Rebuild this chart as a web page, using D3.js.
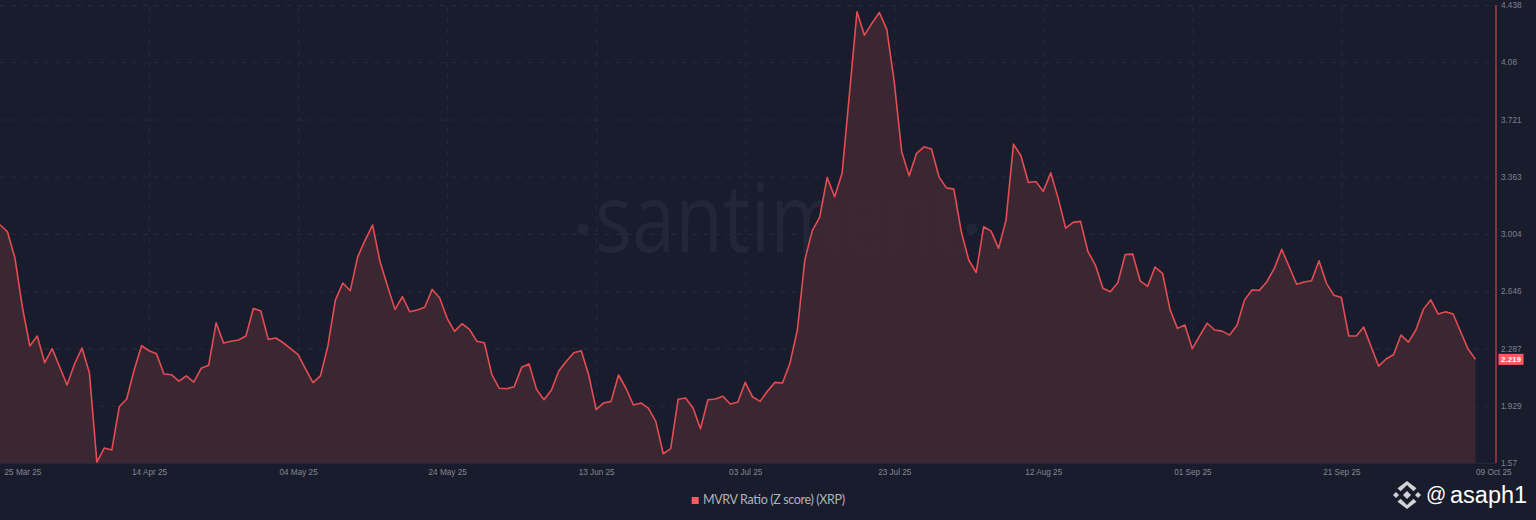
<!DOCTYPE html>
<html><head><meta charset="utf-8">
<script src="https://cdn.jsdelivr.net/npm/d3@7/dist/d3.min.js"></script>
<style>html,body{margin:0;padding:0;background:#181c2d;overflow:hidden}svg{display:block}</style>
</head><body><svg id="c" width="1536" height="520"></svg>
<script>
const startDate = "2025-03-25";
const values = [
3.062,3.018,2.854,2.547,2.303,2.365,2.198,2.286,2.173,2.058,2.190,2.290,2.133,1.576,1.664,1.651,1.922,1.971,2.152,2.304,
2.273,2.254,2.127,2.123,2.083,2.115,2.077,2.163,2.182,2.448,2.321,2.332,2.340,2.365,2.538,2.522,2.344,2.353,2.323,2.286,
2.248,2.160,2.073,2.116,2.303,2.590,2.697,2.649,2.861,2.966,3.060,2.830,2.678,2.532,2.611,2.517,2.528,2.545,2.657,2.603,
2.476,2.394,2.442,2.407,2.332,2.323,2.123,2.038,2.035,2.048,2.169,2.190,2.031,1.966,2.027,2.148,2.207,2.260,2.273,2.121,
1.904,1.946,1.956,2.121,2.038,1.933,1.946,1.914,1.831,1.628,1.660,1.969,1.977,1.914,1.785,1.966,1.971,1.988,1.939,1.950,
2.075,1.983,1.956,2.021,2.075,2.071,2.194,2.403,2.841,3.025,3.110,3.358,3.237,3.384,3.886,4.395,4.249,4.323,4.391,4.285,
3.957,3.519,3.368,3.509,3.550,3.536,3.362,3.293,3.285,3.018,2.841,2.763,3.049,3.022,2.914,3.091,3.567,3.494,3.327,3.333,
3.271,3.387,3.227,3.041,3.077,3.083,2.893,2.809,2.664,2.642,2.699,2.876,2.878,2.711,2.676,2.797,2.758,2.532,2.413,2.434,
2.286,2.368,2.445,2.403,2.396,2.371,2.432,2.590,2.653,2.651,2.705,2.789,2.908,2.799,2.689,2.703,2.711,2.836,2.695,2.620,
2.607,2.365,2.365,2.421,2.298,2.177,2.221,2.248,2.371,2.327,2.403,2.532,2.592,2.503,2.517,2.503,2.392,2.284,2.219];
const yTickValues = [4.438,4.08,3.721,3.363,3.004,2.646,2.287,1.929,1.57];
const xTickDates = ["2025-03-25","2025-04-14","2025-05-04","2025-05-24","2025-06-13","2025-07-03","2025-07-23","2025-08-12","2025-09-01","2025-09-21","2025-10-09"];
const seriesName = "MVRV Ratio (Z score) (XRP)";
const watermark = "santiment";
const creditAt = "@";
const creditName = "asaph1";

const svg = d3.select("#c");
const font = "'Liberation Sans', sans-serif";
const parse = d3.utcParse("%Y-%m-%d");
const t0 = parse(startDate);
const dates = values.map((_, i) => d3.utcDay.offset(t0, i));
const x = d3.scaleUtc().domain([t0, dates[dates.length - 1]]).range([0, 1475.5]);
const y = d3.scaleLinear().domain([1.57, 4.438]).range([463, 5]);
const data = values.map((v, i) => ({ d: dates[i], v }));

// watermark
svg.append("text").attr("x", 595).attr("y", 252)
  .attr("font-family", "'Open Sans', sans-serif").attr("font-weight", 400).attr("font-size", 96)
  .attr("textLength", 366).attr("lengthAdjust", "spacingAndGlyphs")
  .attr("fill", "#222737").text(watermark);
svg.selectAll("circle.wm").data([583, 972]).join("circle").attr("class", "wm")
  .attr("cx", d => d).attr("cy", 229).attr("r", 5.5).attr("fill", "#222737");

// grid
const gridColor = "#262a3b";
const gy = svg.append("g").call(d3.axisRight(y).tickValues(yTickValues).tickSize(1496).tickFormat(""));
gy.select(".domain").remove();
gy.selectAll("line").attr("stroke", gridColor).attr("stroke-dasharray", "5 6");
const gx = svg.append("g").attr("transform", "translate(0,463)")
  .call(d3.axisTop(x).tickValues(xTickDates.slice(1, -1).map(parse)).tickSize(458).tickFormat(""));
gx.select(".domain").remove();
gx.selectAll("line").attr("stroke", gridColor).attr("stroke-dasharray", "5 6");

// area + line
svg.append("path").datum(data).attr("fill", "#3d2832").attr("fill-opacity", 0.95)
  .attr("d", d3.area().x(d => x(d.d)).y0(y(1.57)).y1(d => y(d.v)));
svg.append("path").datum(data).attr("fill", "none").attr("stroke", "#e44c53").attr("stroke-width", 1.6)
  .attr("stroke-linejoin", "round")
  .attr("d", d3.line().x(d => x(d.d)).y(d => y(d.v)));

// x axis
const fmt = d3.utcFormat("%d %b %y");
const ax = svg.append("g").attr("transform", "translate(0,463)")
  .call(d3.axisBottom(x).tickValues(xTickDates.map(parse)).tickSize(0).tickPadding(6).tickFormat(fmt));
ax.select(".domain").attr("stroke", "#24273a").attr("d", "M0,0.5H1496");
ax.selectAll("text").attr("fill", "#85888f").attr("font-family", font).attr("font-size", 8.2);
const xl = ax.selectAll("text");
xl.filter((d, i) => i === 0).attr("text-anchor", "start").attr("x", 4);
xl.filter((d, i) => i === xTickDates.length - 1).attr("text-anchor", "start").attr("x", 0);

// y axis
const ay = svg.append("g").attr("transform", "translate(1496,0)")
  .call(d3.axisRight(y).tickValues(yTickValues).tickSize(0).tickPadding(5).tickFormat(d => String(d)));
ay.select(".domain").attr("stroke", "#81343f").attr("stroke-width", 2).attr("d", "M0,5V463");
ay.selectAll("text").attr("fill", "#7f828e").attr("font-family", font).attr("font-size", 8.2);

// last-value badge
const last = values[values.length - 1];
svg.append("rect").attr("x", 1498.5).attr("y", y(last) - 5.5).attr("width", 25).attr("height", 11).attr("fill", "#ff5a5f");
svg.append("text").attr("x", 1511).attr("y", y(last) + 3).attr("text-anchor", "middle")
  .attr("fill", "#fff").attr("font-family", font).attr("font-size", 8).attr("font-weight", 700).text(last.toFixed(3));

// legend
svg.append("rect").attr("x", 691.7).attr("y", 497).attr("width", 7).attr("height", 7).attr("fill", "#ff5a5f");
svg.append("text").attr("x", 703).attr("y", 504).attr("fill", "#b0b3bd")
  .attr("font-family", "Lato, sans-serif").attr("font-size", 12.5).attr("textLength", 142).text(seriesName);

// credit with logo
const logo = svg.append("g").attr("transform", "translate(1407,495)").attr("fill", "#d2d2d2");
logo.append("path").attr("d", "M0,-4L4,0L0,4L-4,0Z");
logo.append("path").attr("d", "M-3.5,-6.5L0,-10L3.5,-6.5L6.5,-3.8L9.5,-6.8L0,-14L-9.5,-6.8L-6.5,-3.8Z");
logo.append("path").attr("d", "M-3.5,6.5L0,10L3.5,6.5L6.5,3.8L9.5,6.8L0,14L-9.5,6.8L-6.5,3.8Z");
logo.append("path").attr("d", "M-14,0L-11,-3L-8,0L-11,3Z");
logo.append("path").attr("d", "M14,0L11,-3L8,0L11,3Z");
svg.append("text").attr("x", 1426).attr("y", 501).attr("fill", "#ffffff")
  .attr("font-family", font).attr("font-size", 20).text(creditAt);
svg.append("text").attr("x", 1450).attr("y", 503).attr("fill", "#ffffff")
  .attr("font-family", font).attr("font-size", 23.5).text(creditName);
</script></body></html>
